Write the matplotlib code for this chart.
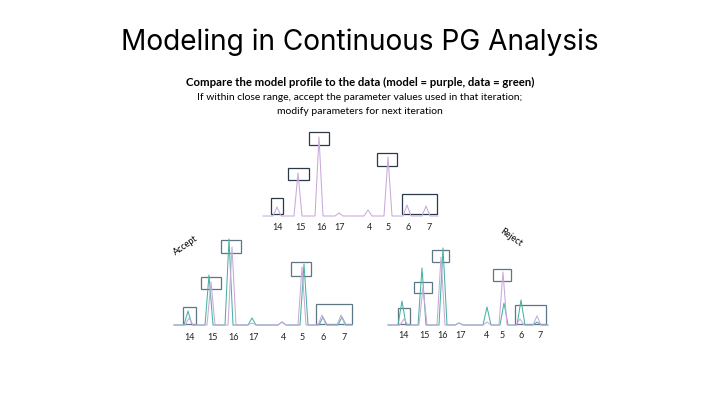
import matplotlib
matplotlib.use('Agg')
import matplotlib.pyplot as plt
import matplotlib.patches as patches

# peak names under each profile
peak_labels = ['14', '15', '16', '17', '4', '5', '6', '7']

# top chart (model only), x in local px units, heights above baseline
top_centers = [14, 35, 56, 76, 105, 125, 144, 163]
top_heights = [9, 43, 79, 3, 6, 59, 11, 10]
top_label_x = [15, 37, 59, 77, 107, 125, 145, 166]
top_boxes = [(8, 2, 12, 16), (25, 36, 21, 12), (46, 71, 20, 13),
             (114, 50, 20, 13), (139, 2, 35, 20)]

# bottom left ("Accept")
acc_model_centers = [15, 37, 58, 78, 108, 128, 148, 167]
acc_model_heights = [7, 43, 78, 2, 3, 58, 10, 10]
acc_data_centers = [14, 35, 55, 78, 108, 130, 149, 168]
acc_data_heights = [14, 50, 86, 7, 3, 61, 8, 8]
acc_label_x = [16, 38, 60, 80, 110, 128, 149, 170]
acc_boxes = [(9, 1, 13, 17), (27, 36, 20, 12), (47, 72, 20, 13),
             (117, 49, 20, 14), (142, 1, 36, 20)]

# bottom right ("Reject")
rej_model_centers = [16, 35, 53, 71, 99, 115, 132, 149]
rej_model_heights = [6, 38, 68, 2, 3, 53, 6, 9]
rej_data_centers = [14, 34, 55, 71, 99, 116, 133, 149]
rej_data_heights = [24, 57, 77, 2, 18, 22, 25, 3]
rej_label_x = [16, 36, 55, 73, 99, 114, 133, 152]
rej_boxes = [(10, 1, 12, 16), (26, 32, 18, 11), (44, 63, 17, 12),
             (105, 44, 18, 12), (127, 1, 31, 19)]

purple = '#c9a9dc'
green = '#48b2a2'
W, H = 720, 405


def profile(centers, heights, x_end, hw=4.0):
    # polyline: flat baseline with triangular peaks
    xs, ys = [0], [0]
    for c, h in sorted(zip(centers, heights)):
        xs += [c - hw, c, c + hw]
        ys += [0, h, 0]
    xs.append(x_end)
    ys.append(0)
    return xs, ys


def make_ax(fig, left, base, width):
    ax = fig.add_axes([left / W, (H - base) / H, width / W, 95 / H])
    ax.set_xlim(0, width)
    ax.set_ylim(0, 95)
    ax.axis('off')
    return ax


def draw_chart(ax, width, series, boxes, label_x, box_color, label_y):
    for centers, heights, col in series:
        xs, ys = profile(centers, heights, width)
        ax.plot(xs, ys, color=col, lw=0.75, clip_on=False)
    for (x, y, w, h) in boxes:
        ax.add_patch(patches.Rectangle((x, y), w, h, fill=False,
                                       edgecolor=box_color, lw=0.9, clip_on=False))
    for lx, lab in zip(label_x, peak_labels):
        ax.text(lx, label_y, lab, ha='center', va='center', fontsize=6.5,
                family='Lato', color='#222222', clip_on=False)


fig = plt.figure(figsize=(7.2, 4.05), dpi=100)
fig.patch.set_facecolor('white')

fig.text(0.5, 1 - 42 / H, 'Modeling in Continuous PG Analysis', ha='center',
         va='center', fontsize=20.2, family='Inter', color='black')
fig.text(0.5, 1 - 82 / H,
         'Compare the model profile to the data (model = purple, data = green)',
         ha='center', va='center', fontsize=8.2, family='Lato',
         fontweight='bold', color='black')
fig.text(0.5, 1 - 97 / H,
         'If within close range, accept the parameter values used in that iteration;',
         ha='center', va='center', fontsize=7.5, family='Lato', color='black')
fig.text(0.5, 1 - 112 / H, 'modify parameters for next iteration',
         ha='center', va='center', fontsize=7.5, family='Lato', color='black')

ax_top = make_ax(fig, 263, 216, 177)
draw_chart(ax_top, 175, [(top_centers, top_heights, purple)], top_boxes,
           top_label_x, '#2b3a4a', -12)

ax_acc = make_ax(fig, 174, 325, 178)
draw_chart(ax_acc, 178, [(acc_data_centers, acc_data_heights, green),
                         (acc_model_centers, acc_model_heights, purple)],
           acc_boxes, acc_label_x, '#5f7784', -13)

ax_rej = make_ax(fig, 388, 325, 160)
draw_chart(ax_rej, 160, [(rej_data_centers, rej_data_heights, green),
                         (rej_model_centers, rej_model_heights, purple)],
           rej_boxes, rej_label_x, '#5f7784', -10)

fig.text(186 / W, 1 - 245 / H, 'Accept', rotation=35, ha='center', va='center',
         fontsize=6.5, family='Lato')
fig.text(511 / W, 1 - 237 / H, 'Reject', rotation=-35, ha='center', va='center',
         fontsize=6.5, family='Lato')

fig.savefig('out.png', dpi=100, facecolor='white')
